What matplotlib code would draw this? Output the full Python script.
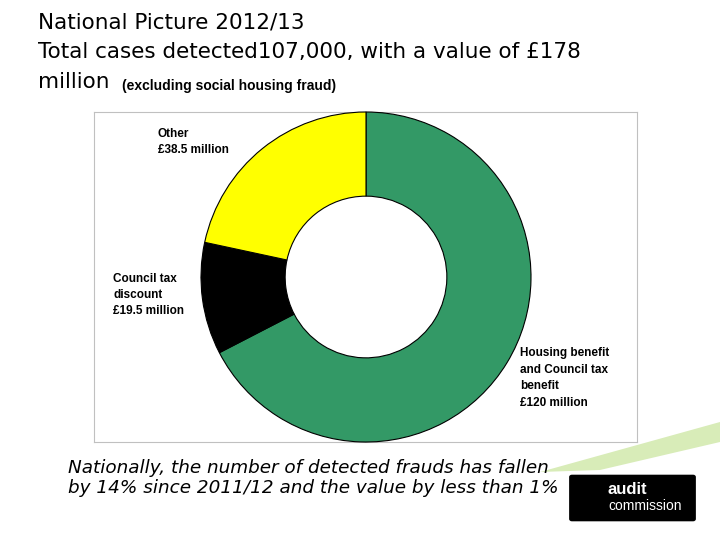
import matplotlib
matplotlib.use("Agg")
import matplotlib.pyplot as plt
from matplotlib.patches import FancyBboxPatch, Polygon

plt.rcParams['font.family'] = ['Liberation Sans', 'DejaVu Sans']

labels = ["Housing benefit\nand Council tax\nbenefit\n£120 million", "Council tax\ndiscount\n£19.5 million", "Other\n£38.5 million"]
values = [120, 19.5, 38.5]
colors = ["#339966", "#000000", "#FFFF00"]

W, H = 720, 540
fig = plt.figure(figsize=(7.2, 5.4), dpi=100)

def fx(x): return x / W
def fy(y): return 1 - y / H

fig.patches.append(Polygon([(fx(540), fy(472)), (fx(720), fy(422)), (fx(720), fy(442)), (fx(600), fy(470))],
                           closed=True, transform=fig.transFigure, facecolor="#d8ecb8", edgecolor="none", zorder=0))

dj = ['DejaVu Sans']
fig.text(fx(38), fy(22), "National Picture 2012/13", fontsize=15.5, family=dj, fontweight="medium", va="center", ha="left")
fig.text(fx(38), fy(52), "Total cases detected107,000, with a value of £178", fontsize=15.5, family=dj, va="center", ha="left")
fig.text(fx(38), fy(82), "million", fontsize=15.5, family=dj, va="center", ha="left")
fig.text(fx(122), fy(86), "(excluding social housing fraud)", fontsize=10, fontweight="bold", va="center", ha="left")

box = fig.add_axes([fx(94), fy(442), fx(637) - fx(94), fy(112) - fy(442)])
box.set_xticks([]); box.set_yticks([])
for s in box.spines.values():
    s.set_color("#c0c0c0")
box.patch.set_alpha(0)

R = 165
ax = fig.add_axes([fx(366 - R), fy(277 + R), 2 * R / W, 2 * R / H])
ax.pie(values, colors=colors, startangle=90, counterclock=False,
       wedgeprops=dict(width=0.51, edgecolor="black", linewidth=0.8))
ax.set_xlim(-1.0, 1.0); ax.set_ylim(-1.0, 1.0)
ax.set_aspect("equal")
ax.axis("off")

fs = 8.5
fig.text(fx(158), fy(142), "Other\n£38.5 million", fontsize=fs, fontweight="bold", va="center", ha="left", linespacing=1.5)
fig.text(fx(113), fy(295), "Council tax\ndiscount\n£19.5 million", fontsize=fs, fontweight="bold", va="center", ha="left", linespacing=1.5)
fig.text(fx(520), fy(378), "Housing benefit\nand Council tax\nbenefit\n£120 million", fontsize=fs, fontweight="bold", va="center", ha="left", linespacing=1.5)

fig.text(fx(68), fy(478), "Nationally, the number of detected frauds has fallen\nby 14% since 2011/12 and the value by less than 1%",
         fontsize=13.2, family=dj, fontstyle="italic", va="center", ha="left", linespacing=1.2)

fig.patches.append(FancyBboxPatch((fx(572), fy(519)), fx(693) - fx(572), fy(477) - fy(519),
                                  boxstyle="round,pad=0.003", transform=fig.transFigure,
                                  facecolor="black", edgecolor="black"))
fig.text(fx(608), fy(490), "audit", color="white", fontsize=12, fontweight="bold", va="center", ha="left")
fig.text(fx(608), fy(506), "commission", color="white", fontsize=10, va="center", ha="left")

fig.savefig("out.png", dpi=100)
